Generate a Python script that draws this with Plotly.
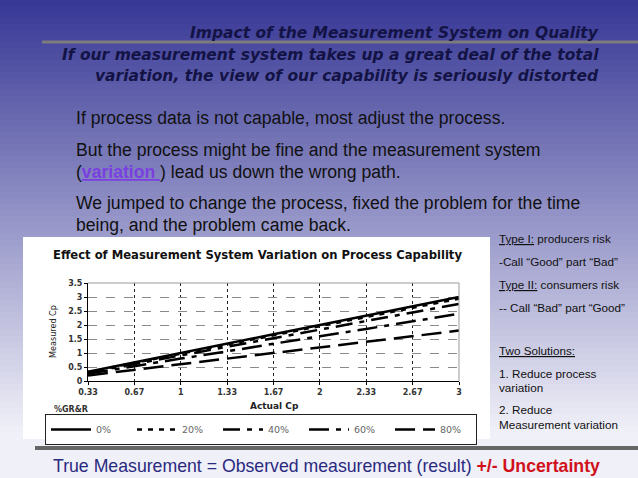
"""Slide: impact of the measurement system on measured process capability."""

import plotly.graph_objects as go

W, H = 638, 478

# --- data ---
actual_cp = ["0.33", "0.67", "1", "1.33", "1.67", "2", "2.33", "2.67", "3"]
grr_labels = ["0%", "20%", "40%", "60%", "80%"]
measured_0 = [0.33, 0.67, 1.00, 1.33, 1.67, 2.00, 2.33, 2.67, 3.00]
measured_20 = [0.32, 0.65, 0.98, 1.30, 1.63, 1.96, 2.28, 2.61, 2.94]
measured_40 = [0.30, 0.61, 0.92, 1.22, 1.53, 1.83, 2.14, 2.45, 2.75]
measured_60 = [0.26, 0.54, 0.80, 1.06, 1.34, 1.60, 1.86, 2.14, 2.40]
measured_80 = [0.20, 0.40, 0.60, 0.80, 1.00, 1.20, 1.40, 1.60, 1.80]
y_ticks = [0, 0.5, 1, 1.5, 2, 2.5, 3, 3.5]

series = [measured_0, measured_20, measured_40, measured_60, measured_80]
dashes = ["solid", "5px,6px", "17px,7px,5px,7px", "20px,7px,5px,7px", "20px,8px"]


def px(x):
    return x / W


def py(y):
    return 1 - y / H


fig = go.Figure()
for name, vals, dash in zip(grr_labels, series, dashes):
    fig.add_trace(
        go.Scatter(
            x=actual_cp,
            y=vals,
            name=name,
            mode="lines",
            line=dict(color="black", width=2.5, dash=dash),
            hoverinfo="skip",
        )
    )

# background gradient as thin strips
shapes = []
step = 6
for y0 in range(0, H, step):
    t = min((y0 + step / 2) / 430, 1.0)
    r = int(55 + (240 - 55) * t)
    b = int(150 + (248 - 150) * t)
    shapes.append(
        dict(
            type="rect", xref="paper", yref="paper", layer="below",
            x0=0, x1=1, y0=py(y0 + step + 1), y1=py(y0),
            fillcolor=f"rgb({r},{r},{b})", line=dict(width=0),
        )
    )

shapes += [
    # chart panel
    dict(type="rect", xref="paper", yref="paper", layer="below",
         x0=px(23), x1=px(490), y0=py(439), y1=py(237),
         fillcolor="white", line=dict(width=0)),
    # rules under the title and above the footer
    dict(type="line", xref="paper", yref="paper", layer="below",
         x0=px(42), x1=1, y0=py(42), y1=py(42),
         line=dict(color="#7c7c7c", width=3)),
    dict(type="line", xref="paper", yref="paper",
         x0=px(35), x1=1, y0=py(448), y1=py(448),
         line=dict(color="#666666", width=4)),
    # grey top / right plot border
    dict(type="line", xref="x domain", yref="y domain",
         x0=0, x1=1, y0=1, y1=1, line=dict(color="#9a9a9a", width=1)),
    dict(type="line", xref="x domain", yref="y domain",
         x0=1, x1=1, y0=0, y1=1, line=dict(color="#9a9a9a", width=1)),
]

title_font = dict(family="DejaVu Sans", size=15.5, color="#131345",
                  weight="bold", style="italic")
body_font = dict(family="Liberation Sans", size=17.6, color="#111111")
side_font = dict(family="Liberation Sans", size=11.7, color="#111111")

annotations = []


def note(text, x, y, font, xanchor="left", yanchor="middle", **kw):
    annotations.append(
        dict(text=text, x=px(x), y=py(y), xref="paper", yref="paper",
             xanchor=xanchor, yanchor=yanchor, showarrow=False,
             font=font, align=xanchor if xanchor != "center" else "center", **kw)
    )


note("Impact of the Measurement System on Quality", 601, 33, title_font, "right")
note("If our measurement system takes up a great deal of the total", 601, 55,
     title_font, "right")
note("variation, the view of our capability is seriously distorted", 601, 76,
     title_font, "right")

note("If process data is not capable, most adjust the process.", 74, 118, body_font)
note("But the process might be fine and the measurement system", 74, 150, body_font)
note("(<span style='color:#7a3fe0'><b><u>variation </u></b></span>) lead us down the wrong path.",
     74, 172, body_font)
note("We jumped to change the process, fixed the problem for the time", 74, 203, body_font)
note("being, and the problem came back.", 74, 225, body_font)

note("<u>Type I:</u> producers risk", 497, 238, side_font)
note("-Call “Good” part “Bad”", 497, 261, side_font)
note("<u>Type II:</u> consumers risk", 497, 284, side_font)
note("-- Call “Bad” part “Good”", 497, 307, side_font)
note("<u>Two Solutions:</u>", 497, 350, side_font)
note("1. Reduce process", 497, 373, side_font)
note("variation", 497, 387, side_font)
note("2. Reduce", 497, 409, side_font)
note("Measurement variation", 497, 424, side_font)

note("True Measurement = Observed measurement (result) "
     "<span style='color:#d0101a'><b>+/- Uncertainty</b></span>",
     51, 466, dict(family="Liberation Sans", size=17.7, color="#2a2a80"))

chart_bold = dict(family="DejaVu Sans", size=11.6, color="#111111", weight="bold")
note("Effect of Measurement System Variation on Process Capability", 257, 255,
     chart_bold, "center")
note("Actual Cp", 274, 406, dict(family="DejaVu Sans", size=9, color="#222222",
                                 weight="bold"), "center")
note("Measured Cp", 53, 332, dict(family="DejaVu Sans Condensed", size=9,
                                  color="#222222"), "center", textangle=-90)
note("%GR&R", 52, 409, dict(family="DejaVu Sans", size=8, color="#333333",
                            weight="bold"))

tick_font = dict(family="DejaVu Sans", size=8, color="#333333", weight="bold")

fig.update_layout(
    width=W,
    height=H,
    margin=dict(l=0, r=0, t=0, b=0),
    paper_bgcolor="#e0e0ee",
    plot_bgcolor="rgba(0,0,0,0)",
    shapes=shapes,
    annotations=annotations,
    showlegend=True,
    legend=dict(
        orientation="h",
        x=px(45), y=py(414), xanchor="left", yanchor="top",
        bgcolor="white", bordercolor="#222222", borderwidth=1,
        font=dict(family="DejaVu Sans", size=9.5, color="#666666"),
        entrywidth=31, entrywidthmode="pixels", itemwidth=40,
        tracegroupgap=0,
    ),
    xaxis=dict(
        domain=[px(88), px(459)],
        type="category",
        range=[0, len(actual_cp) - 1],
        automargin=False,
        showline=True, linecolor="black", linewidth=1,
        ticks="outside", ticklen=3, tickcolor="black",
        showgrid=True, gridcolor="#222222", griddash="dot", gridwidth=1,
        tickfont=tick_font, zeroline=False,
    ),
    yaxis=dict(
        domain=[py(381), py(283)],
        range=[0, 3.5],
        tickvals=y_ticks,
        automargin=False,
        showline=True, linecolor="black", linewidth=1,
        ticks="outside", ticklen=3, tickcolor="black",
        showgrid=True, gridcolor="#8a8a8a", griddash="dash", gridwidth=1,
        tickfont=tick_font, zeroline=False,
    ),
)

# page body margin would push the slide 8px off the window
fig.write_html(
    "out.html",
    config={"displayModeBar": False},
    post_script="document.body.style.margin='0px';",
)
